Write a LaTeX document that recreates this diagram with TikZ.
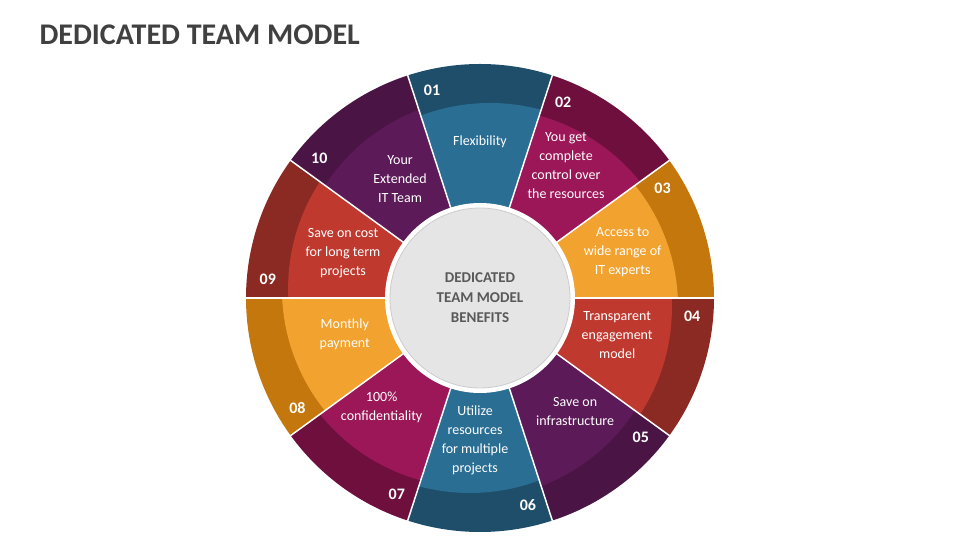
\documentclass[tikz,border=0pt]{standalone}
\usepackage{fontspec}
\usetikzlibrary{calc}
\setmainfont{Carlito}
\definecolor{dA}{HTML}{1F4E6B}\definecolor{lA}{HTML}{2A6E93}
\definecolor{dB}{HTML}{6E0F3E}\definecolor{lB}{HTML}{9B1758}
\definecolor{dC}{HTML}{C4770C}\definecolor{lC}{HTML}{F2A22F}
\definecolor{dD}{HTML}{8B2A22}\definecolor{lD}{HTML}{C0392F}
\definecolor{dE}{HTML}{4A1444}\definecolor{lE}{HTML}{5C1A58}
\begin{document}
\begin{tikzpicture}[x=1pt,y=1pt,
  lbl/.style={text=white,align=center,font=\fontsize{14}{19}\selectfont},
  num/.style={text=white,font=\fontsize{16}{18}\selectfont\bfseries}]
\useasboundingbox (0,0) rectangle (960,540);
\fill[white] (0,0) rectangle (960,540);
\node[anchor=west,text=black!75,font=\fontsize{30}{34}\selectfont\bfseries] (title) at (36,505) {DEDICATED TEAM MODEL};
\coordinate (c) at (480,242);
\foreach \m/\d/\l [count=\i] in {90/dA/lA,54/dB/lB,18/dC/lC,-18/dD/lD,-54/dE/lE,-90/dA/lA,-126/dB/lB,-162/dC/lC,-198/dD/lD,-234/dE/lE}{
  \pgfmathsetmacro\aa{\m+18}\pgfmathsetmacro\ab{\m-18}\pgfmathsetmacro\ao{\m-90}
  \fill[\d] (c) -- ++(\aa:234) arc[start angle=\aa,end angle=\ab,radius=234] -- cycle;
  \begin{scope}
    \clip (c) -- ++(\aa:234) arc[start angle=\aa,end angle=\ab,radius=234] -- cycle;
    \fill[\l] ($(c)+(\ao:10)$) circle (195);
  \end{scope}
}
\foreach \m in {90,54,18,-18,-54,-90,-126,-162,-198,-234}{
  \draw[white,line width=1.5pt] (c) -- ++(\m+18:235);
}
\foreach \m/\t [count=\i] in {90/01,54/02,18/03,-18/04,-54/05,-90/06,-126/07,-162/08,-198/09,-234/10}{
  \node[num] (n\i) at ($(c)+(\m+13:213)$) {\t};
}
\node[lbl] (t1) at ($(c)+(90:156)$) {Flexibility};
\node[lbl] (t2) at ($(c)+(57:158)$) {You get\\complete\\control over\\the resources};
\node[lbl] (t3) at ($(c)+(18:150)$) {Access to\\wide range of\\IT experts};
\node[lbl] (t4) at ($(c)+(-15:142)$) {Transparent\\engagement\\model};
\node[lbl] (t5) at ($(c)+(-50:148)$) {Save on\\infrastructure};
\node[lbl] (t6) at ($(c)+(-92:142)$) {Utilize\\resources\\for multiple\\projects};
\node[lbl] (t7) at ($(c)+(-132:147)$) {100\%\\confidentiality};
\node[lbl] (t8) at ($(c)+(-165:140)$) {Monthly\\payment};
\node[lbl] (t9) at ($(c)+(162:144)$) {Save on cost\\for long term\\projects};
\node[lbl] (t10) at ($(c)+(124:143)$) {Your\\Extended\\IT Team};
\fill[white] (c) circle (95);
\node[circle,minimum size=180pt,fill=black!10,draw=black!20,line width=0.8pt,text=black!65,align=center,font=\fontsize{15}{20}\selectfont\bfseries] (ctr) at (c) {DEDICATED\\TEAM MODEL\\BENEFITS};
\end{tikzpicture}
\end{document}
